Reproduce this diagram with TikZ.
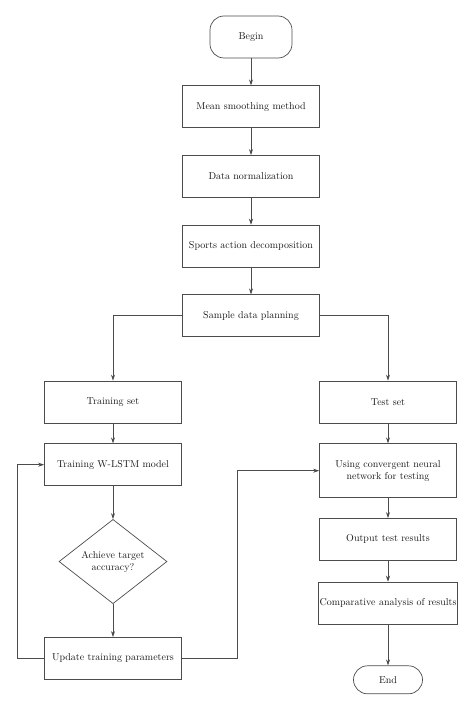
\documentclass[tikz,border=0pt]{standalone}
\usetikzlibrary{arrows.meta,positioning,shapes.geometric}

\begin{document}
\begin{tikzpicture}[x=1pt,y=1pt,>={Stealth[length=6pt,width=4pt]},auto,node distance=27pt,align=center,
    process/.style={draw=black!70,line width=0.7pt,text=black!90,minimum width=137pt,minimum height=42pt,inner sep=1pt},
    terminal/.style={draw=black!70,line width=0.7pt,text=black!90,rounded corners=14pt,minimum width=82pt,minimum height=42pt},
    decision/.style={diamond,draw=black!70,line width=0.7pt,text=black!90,minimum width=108pt,minimum height=62pt,inner sep=0pt},
    flow/.style={draw=black!70,line width=0.7pt}]
    \useasboundingbox (0,0) rectangle (474,-706);
		\node[terminal] (begin) at (251,-37) {Begin};
		\node[process] [below=of begin] (mean) {Mean smoothing method};
		\node[process] [below=of mean] (norm) {Data normalization};
		\node[process] [below=of norm] (decomp) {Sports action decomposition};
		\node[process] [below=of decomp] (sample) {Sample data planning};
		\node[process] (trainset) at (113,-402) {Training set};
		\node[process] [below=20pt of trainset] (wlstm) {Training W-LSTM model};
		\node[decision] [below=33pt of wlstm] (check) {Achieve target\\accuracy?};
		\node[process] [below=33pt of check] (update) {Update training parameters};
		\node[process] (testset) at (388,-402) {Test set};
		\node[process,minimum height=54pt] [below=20pt of testset] (convnet) {Using convergent neural\\network for testing};
		\node[process] [below=20pt of convnet] (outres) {Output test results};
		\node[process] [below=21pt of outres] (compare) {Comparative analysis of results};
		\node[terminal,minimum width=69pt,minimum height=28pt] [below=41pt of compare] (finish) {End};
		\path[flow,->]
			(begin) edge (mean)
			(mean) edge (norm)
			(norm) edge (decomp)
			(decomp) edge (sample)
			(trainset) edge (wlstm)
			(wlstm) edge (check)
			(check) edge (update)
			(testset) edge (convnet)
			(convnet) edge (outres)
			(outres) edge (compare)
			(compare) edge (finish);
		\draw[flow,->] (sample.west) -| (trainset.north);
		\draw[flow,->] (sample.east) -| (testset.north);
		\draw[flow,->] (update.west) -- ++(-27,0) |- (wlstm.west);
		\draw[flow,->] (update.east) -- ++(55,0) |- (convnet.west);
	\end{tikzpicture}
\end{document}
